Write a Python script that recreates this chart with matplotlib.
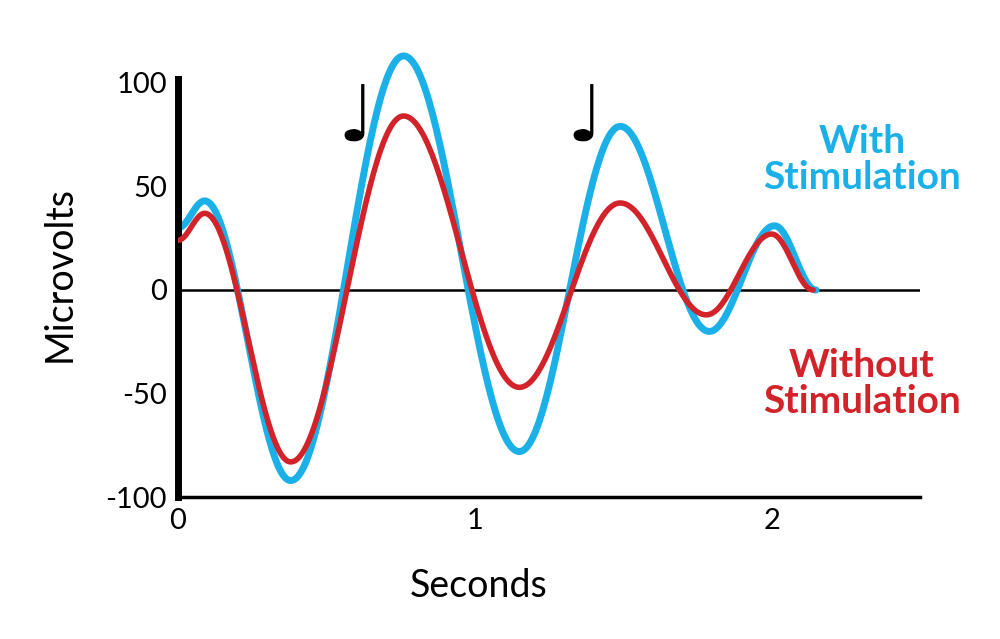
import numpy as np
import matplotlib
matplotlib.use("Agg")
import matplotlib.pyplot as plt

plt.rcParams['font.family'] = ['Lato', 'DejaVu Sans']
plt.rcParams['axes.unicode_minus'] = False

blue_t = [0.0, 0.09, 0.38, 0.76, 1.15, 1.49, 1.79, 2.01, 2.15]
blue_v = [30, 43, -92, 113, -78, 79, -20, 31, 0]
red_t = [0.0, 0.09, 0.38, 0.76, 1.15, 1.49, 1.78, 2.00, 2.14]
red_v = [24, 37, -83, 84, -47, 42, -12, 27, 0]
x_ticks = [0, 1, 2]
y_ticks = [-100, -50, 0, 50, 100]

def smooth(ts, vs, n=60):
    xs, ys = [], []
    for i in range(len(ts) - 1):
        u = np.linspace(0, 1, n, endpoint=False)
        w = (1 - np.cos(np.pi * u)) / 2
        xs.append(ts[i] + (ts[i+1] - ts[i]) * u)
        ys.append(vs[i] + (vs[i+1] - vs[i]) * w)
    xs.append([ts[-1]]); ys.append([vs[-1]])
    return np.concatenate(xs), np.concatenate(ys)

BLUE = '#1BB0E8'
RED = '#D2232A'

fig = plt.figure(figsize=(10, 6.39), dpi=100)
ax = fig.add_axes([0.178, 0.222, 0.742, 0.697])
ax.set_xlim(0, 2.5)
ax.set_ylim(-100, 115)

ax.axhline(0, color='black', lw=1.8, zorder=1)
bx, by = smooth(blue_t, blue_v)
rx, ry = smooth(red_t, red_v)
ax.plot(bx, by, color=BLUE, lw=5, zorder=2, solid_capstyle='round')
ax.plot(rx, ry, color=RED, lw=4, zorder=3, solid_capstyle='round')

for s in ['top', 'right']:
    ax.spines[s].set_visible(False)
ax.spines['left'].set_linewidth(5)
ax.spines['left'].set_bounds(-100, 102)
ax.spines['bottom'].set_linewidth(2.5)
ax.set_xticks(x_ticks)
ax.set_yticks(y_ticks)
ax.tick_params(length=0, labelsize=21, pad=8)
ax.set_xlabel('Seconds', fontsize=27)
ax.xaxis.set_label_coords(0.405, -0.16)
ax.set_ylabel('Microvolts', fontsize=27, labelpad=20)

for xn in [0.6, 1.37]:
    ax.text(xn, 82, '♩', fontsize=56, family='DejaVu Sans', ha='center', va='center')

fig.text(0.862, 0.75, 'With\nStimulation', color=BLUE, fontsize=28, fontweight='bold',
         ha='center', va='center', linespacing=1.05)
fig.text(0.862, 0.40, 'Without\nStimulation', color=RED, fontsize=28, fontweight='bold',
         ha='center', va='center', linespacing=1.05)

fig.savefig('out.png', dpi=100)
